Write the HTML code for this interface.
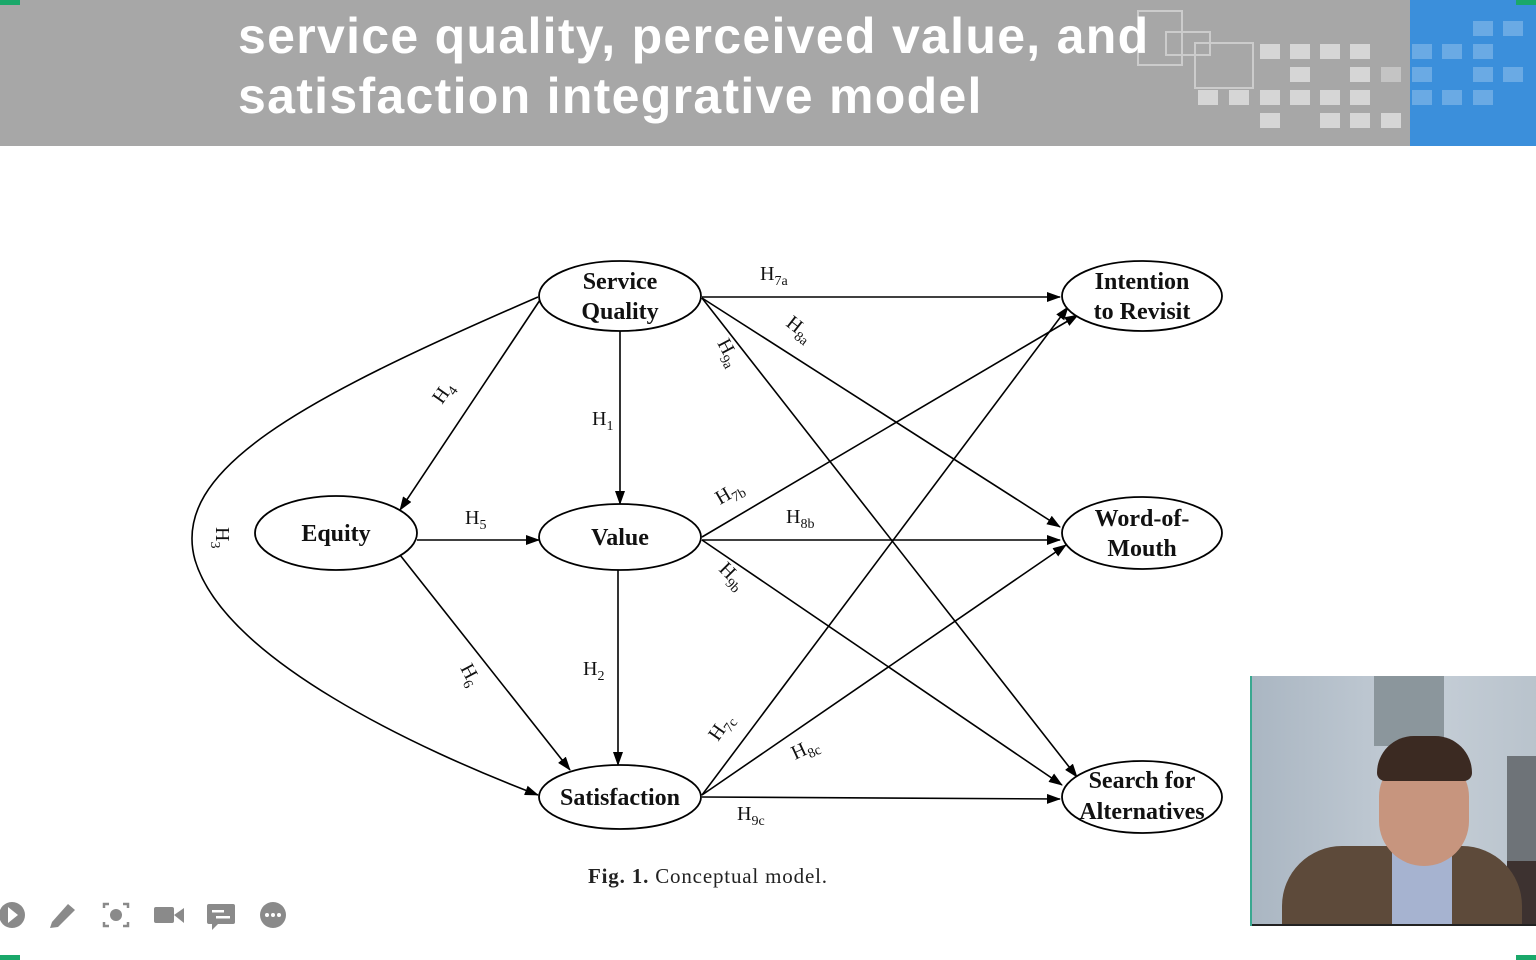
<!DOCTYPE html>
<html><head><meta charset="utf-8"><style>
body{margin:0;width:1536px;height:960px;overflow:hidden;background:#fff;position:relative;font-family:"Liberation Sans",sans-serif}
.hdr{position:absolute;left:0;top:0;width:1536px;height:146px;background:#a7a7a7}
.blue{position:absolute;left:1410px;top:0;width:126px;height:146px;background:#3b8fdb}
.title{position:absolute;left:238px;top:6px;color:#fff;font-weight:bold;font-size:50px;line-height:60px;letter-spacing:1.3px}
.sq{position:absolute;width:20px;height:15px;background:#d6d6d6}
.bq{position:absolute;width:20px;height:15px;background:#6aaae4}
</style></head><body>
<div class="hdr"></div><div class="blue"></div>
<div style="position:absolute;left:0;top:0;width:20px;height:5px;background:#1aa86a"></div>
<div style="position:absolute;left:0;top:955px;width:20px;height:5px;background:#1aa86a"></div>
<div style="position:absolute;left:1516px;top:955px;width:20px;height:5px;background:#1aa86a"></div>
<div style="position:absolute;left:1516px;top:0;width:20px;height:5px;background:#1aa86a"></div>
<div style="position:absolute;left:1137px;top:10px;width:42px;height:52px;border:2px solid #ccc"></div>
<div style="position:absolute;left:1165px;top:31px;width:42px;height:21px;border:2px solid #ccc"></div>
<div style="position:absolute;left:1194px;top:42px;width:56px;height:43px;border:2px solid #ccc"></div>
<div class="sq" style="left:1260px;top:44px"></div><div class="sq" style="left:1290px;top:44px"></div><div class="sq" style="left:1320px;top:44px"></div><div class="sq" style="left:1350px;top:44px"></div>
<div class="sq" style="left:1290px;top:67px"></div><div class="sq" style="left:1350px;top:67px"></div><div class="sq" style="left:1381px;top:67px;background:#c4c4c4"></div>
<div class="sq" style="left:1198px;top:90px"></div><div class="sq" style="left:1229px;top:90px"></div><div class="sq" style="left:1260px;top:90px"></div><div class="sq" style="left:1290px;top:90px"></div><div class="sq" style="left:1320px;top:90px"></div><div class="sq" style="left:1350px;top:90px"></div>
<div class="sq" style="left:1260px;top:113px"></div><div class="sq" style="left:1320px;top:113px"></div><div class="sq" style="left:1350px;top:113px"></div><div class="sq" style="left:1381px;top:113px"></div>
<div class="bq" style="left:1473px;top:21px"></div><div class="bq" style="left:1503px;top:21px"></div>
<div class="bq" style="left:1412px;top:44px"></div><div class="bq" style="left:1442px;top:44px"></div><div class="bq" style="left:1473px;top:44px"></div>
<div class="bq" style="left:1412px;top:67px"></div><div class="bq" style="left:1473px;top:67px"></div><div class="bq" style="left:1503px;top:67px"></div>
<div class="bq" style="left:1412px;top:90px"></div><div class="bq" style="left:1442px;top:90px"></div><div class="bq" style="left:1473px;top:90px"></div>
<div class="title">service quality, perceived value, and<br>satisfaction integrative model</div>

<svg width="1536" height="960" style="position:absolute;left:0;top:0" font-family="Liberation Serif,serif">
<defs><marker id="a" markerWidth="14" markerHeight="10" refX="13" refY="5" orient="auto" markerUnits="userSpaceOnUse"><path d="M0,0 L14,5 L0,10 z" fill="#000"/></marker></defs>
<g stroke="#000" stroke-width="1.6" fill="none" marker-end="url(#a)">
<line x1="540" y1="300" x2="400" y2="510"/>
<line x1="620" y1="331" x2="620" y2="504"/>
<line x1="417" y1="540" x2="539" y2="540"/>
<line x1="618" y1="570" x2="618" y2="765"/>
<line x1="400" y1="555" x2="570" y2="770"/>
<path d="M538,297 C300,400 170,470 195,560 C225,660 420,750 538,795"/>
<line x1="702" y1="297" x2="1060" y2="297"/>
<line x1="702" y1="298" x2="1060" y2="527"/>
<line x1="702" y1="298" x2="1077" y2="777"/>
<line x1="702" y1="537" x2="1078" y2="315"/>
<line x1="702" y1="540" x2="1060" y2="540"/>
<line x1="702" y1="540" x2="1062" y2="785"/>
<line x1="702" y1="795" x2="1068" y2="307"/>
<line x1="702" y1="795" x2="1066" y2="545"/>
<line x1="702" y1="797" x2="1060" y2="799"/>
</g>
<g stroke="#000" stroke-width="1.8" fill="#fff">
<ellipse cx="620" cy="296" rx="81" ry="35"/>
<ellipse cx="336" cy="533" rx="81" ry="37"/>
<ellipse cx="620" cy="537" rx="81" ry="33"/>
<ellipse cx="620" cy="797" rx="81" ry="32"/>
<ellipse cx="1142" cy="296" rx="80" ry="35"/>
<ellipse cx="1142" cy="533" rx="80" ry="36"/>
<ellipse cx="1142" cy="797" rx="80" ry="36"/>
</g>
<g font-weight="bold" font-size="24" text-anchor="middle" fill="#111">
<text x="620" y="289">Service</text><text x="620" y="319">Quality</text>
<text x="336" y="541">Equity</text>
<text x="620" y="545">Value</text>
<text x="620" y="805">Satisfaction</text>
<text x="1142" y="289">Intention</text><text x="1142" y="319">to Revisit</text>
<text x="1142" y="526">Word-of-</text><text x="1142" y="556">Mouth</text>
<text x="1142" y="788">Search for</text><text x="1142" y="819">Alternatives</text>
</g>
<g font-size="20" fill="#111">
<text x="760" y="280">H<tspan font-size="14" dy="5">7a</tspan></text>
<text x="592" y="425">H<tspan font-size="14" dy="5">1</tspan></text>
<text x="465" y="524">H<tspan font-size="14" dy="5">5</tspan></text>
<text x="786" y="523">H<tspan font-size="14" dy="5">8b</tspan></text>
<text x="583" y="675">H<tspan font-size="14" dy="5">2</tspan></text>
<text x="737" y="820">H<tspan font-size="14" dy="5">9c</tspan></text>
<text transform="translate(442,405) rotate(-55)">H<tspan font-size="14" dy="5">4</tspan></text>
<text transform="translate(717,343) rotate(62)">H<tspan font-size="14" dy="5">9a</tspan></text>
<text transform="translate(785,325) rotate(38)">H<tspan font-size="14" dy="5">8a</tspan></text>
<text transform="translate(720,505) rotate(-30)">H<tspan font-size="14" dy="5">7b</tspan></text>
<text transform="translate(718,570) rotate(45)">H<tspan font-size="14" dy="5">9b</tspan></text>
<text transform="translate(460,668) rotate(62)">H<tspan font-size="14" dy="5">6</tspan></text>
<text transform="translate(216,527) rotate(90)">H<tspan font-size="14" dy="5">3</tspan></text>
<text transform="translate(718,742) rotate(-55)">H<tspan font-size="14" dy="5">7c</tspan></text>
<text transform="translate(795,760) rotate(-25)">H<tspan font-size="14" dy="5">8c</tspan></text>
</g>
<text x="588" y="883" font-size="21" fill="#222" textLength="239"><tspan font-weight="bold">Fig. 1.</tspan> Conceptual model.</text>
<g fill="#8a8a8a">
<circle cx="12" cy="915" r="13"/><path d="M8,907 L18,915 L8,923z" fill="#fff"/>
<path d="M52,922 L68,904 L75,910 L58,927 L50,928z"/>
<circle cx="116" cy="915" r="6"/>
<path d="M104,908 v-4 h5 M123,904 h5 v4 M128,922 v4 h-5 M109,926 h-5 v-4" stroke="#8a8a8a" stroke-width="2.5" fill="none"/>
<rect x="154" y="907" width="20" height="16" rx="2"/><path d="M174,915 L184,908 V923z"/>
<rect x="207" y="904" width="28" height="20" rx="2"/><path d="M212,924 L212,930 L218,924z"/>
<circle cx="273" cy="915" r="13"/>
</g>
<g fill="#fff"><rect x="212" y="910" width="12" height="2.5"/><rect x="216" y="916" width="14" height="2.5"/>
<circle cx="267" cy="915" r="2"/><circle cx="273" cy="915" r="2"/><circle cx="279" cy="915" r="2"/></g>
</svg>

<div style="position:absolute;left:1250px;top:676px;width:286px;height:250px;background:#b8c2cc;border-left:2px solid #3aa890;overflow:hidden">
<div style="position:absolute;left:0;top:0;width:286px;height:248px;background:linear-gradient(90deg,#aab6c2,#c5ced7 60%,#b9c3cc)"></div>
<div style="position:absolute;left:122px;top:0;width:70px;height:70px;background:#8b969c"></div>
<div style="position:absolute;left:255px;top:80px;width:31px;height:110px;background:#6e7378"></div>
<div style="position:absolute;left:255px;top:185px;width:31px;height:63px;background:#3d3230"></div>
<div style="position:absolute;left:30px;top:170px;width:240px;height:100px;background:#5d4a3a;border-radius:60px 60px 0 0"></div>
<div style="position:absolute;left:140px;top:175px;width:60px;height:80px;background:#a6b3d0"></div>
<div style="position:absolute;left:127px;top:80px;width:90px;height:110px;background:#c7957e;border-radius:45px 45px 50px 50px"></div>
<div style="position:absolute;left:125px;top:60px;width:95px;height:45px;background:#3b2a22;border-radius:45px 45px 10px 10px"></div>
<div style="position:absolute;left:0;top:248px;width:286px;height:2px;background:#222"></div>
</div>
</body></html>
